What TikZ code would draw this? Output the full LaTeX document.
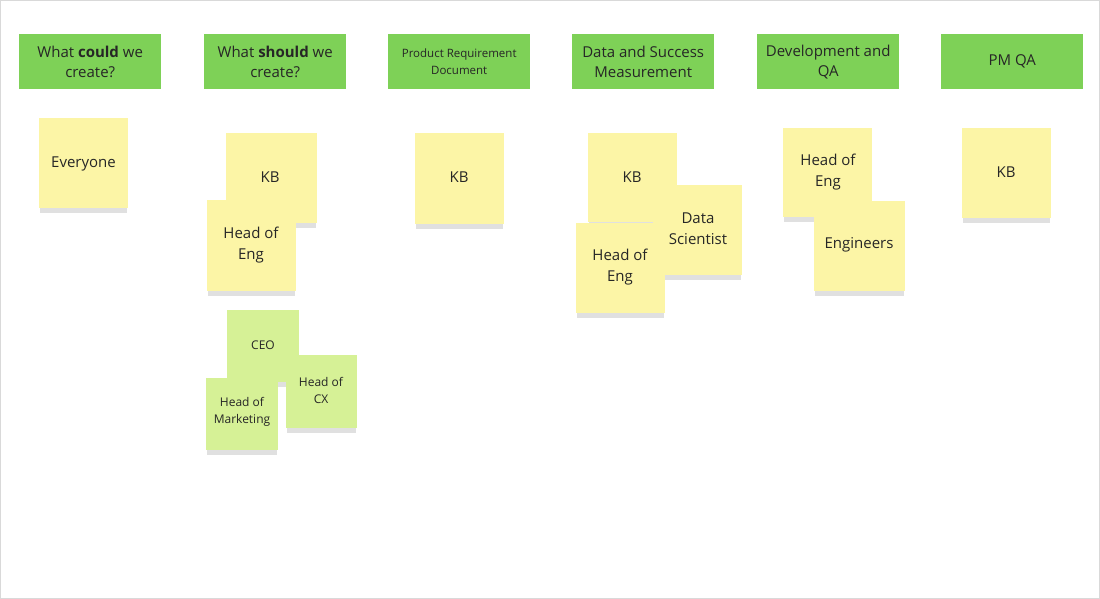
\documentclass[tikz,border=0pt]{standalone}
\usepackage{fontspec}
\setmainfont{Open Sans}
\definecolor{hdr}{HTML}{7ED157}
\definecolor{yel}{HTML}{FCF5A6}
\definecolor{grn}{HTML}{D6F196}
\tikzset{x=1pt,y=-1pt,
 hdrbox/.style={fill=hdr,draw=none,align=center,text=black!85,font=\fontsize{15}{20}\selectfont},
 stickytxt/.style={align=center,text=black!85,font=\fontsize{15}{21}\selectfont},
 smalltxt/.style={align=center,text=black!85,font=\fontsize{12}{17}\selectfont}}
\newcommand{\sticky}[6]{% name, x1,y1,x2,y2, color
 \fill[black!25] (#2+3,#5-6) rectangle (#4-3,#5+3);
 \fill[black!12] (#2+1,#5-2) rectangle (#4-1,#5+5);
 \fill[#6] (#2,#3) rectangle (#4,#5);
 \coordinate (#1) at ({(#2+#4)/2},{(#3+#5)/2});}
\begin{document}
\begin{tikzpicture}
\useasboundingbox (0,0) rectangle (1100,599);
\draw[black!15] (0.5,0.5) rectangle (1099.5,598.5);
% headers
\foreach \n/\a/\t in {h1/19/{What \textbf{could} we\\create?},h2/204/{What \textbf{should} we\\create?},h4/572/{Data and Success\\Measurement},h5/757/{Development and\\QA},h6/941/{PM QA}}{
 \node[hdrbox,minimum width=142pt,minimum height=55pt,anchor=north west,inner sep=0] (\n) at (\a,34) {\t};}
\node[hdrbox,font=\fontsize{11.5}{17}\selectfont,minimum width=142pt,minimum height=55pt,anchor=north west,inner sep=0] (h3) at (388,34) {Product Requirement\\Document};
% stickies
\sticky{s1}{39}{118}{128}{208}{yel}
\node[stickytxt] (t1) at ([yshift=-1]s1) {Everyone};
\sticky{s2}{226}{133}{317}{223}{yel}
\node[stickytxt] (t2) at (270,177) {KB};
\sticky{s3}{207}{200}{296}{291}{yel}
\node[stickytxt] (t3) at (251,245) {Head of\\Eng};
\sticky{s4}{227}{310}{299}{382}{grn}
\node[smalltxt] (t4) at (263,345) {CEO};
\sticky{s5}{286}{355}{357}{428}{grn}
\node[smalltxt] (t5) at (321,390) {Head of\\CX};
\sticky{s6}{206}{378}{278}{450}{grn}
\node[smalltxt] (t6) at (242,412) {Head of\\Marketing};
\sticky{s7}{415}{133}{504}{224}{yel}
\node[stickytxt] (t7) at (459,177) {KB};
\sticky{s8}{588}{133}{677}{222}{yel}
\node[stickytxt] (t8) at (632,177) {KB};
\sticky{s9}{653}{185}{742}{275}{yel}
\node[stickytxt] (t9) at (698,229) {Data\\Scientist};
\sticky{s10}{576}{223}{665}{313}{yel}
\node[stickytxt] (t10) at (620,267) {Head of\\Eng};
\sticky{s11}{783}{128}{872}{217}{yel}
\node[stickytxt] (t11) at (828,172) {Head of\\Eng};
\sticky{s12}{814}{201}{905}{291}{yel}
\node[stickytxt] (t12) at (859,245) {Engineers};
\sticky{s13}{962}{128}{1051}{218}{yel}
\node[stickytxt] (t13) at (1006,172) {KB};
\end{tikzpicture}
\end{document}
